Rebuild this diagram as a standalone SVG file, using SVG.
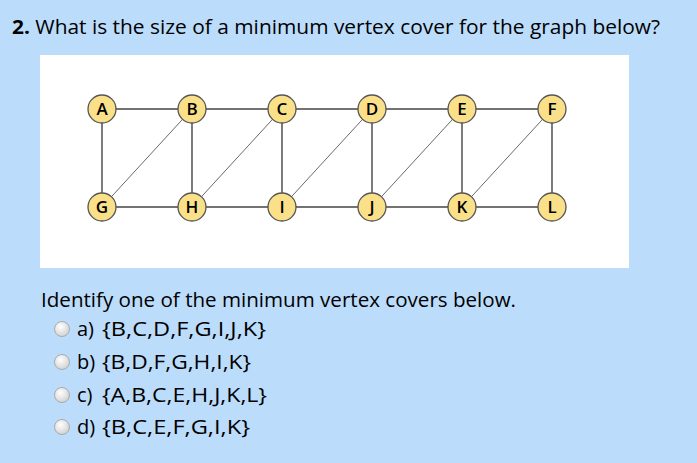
<svg xmlns="http://www.w3.org/2000/svg" width="697" height="463" viewBox="0 0 697 463">
<style>
text{font-family:"Open Sans","Liberation Sans",sans-serif;fill:#000}
.q{font-size:20px}
.n circle{fill:#fbe08a;stroke:#555;stroke-width:1.3}
.e line{stroke:#444;stroke-width:1.4}
.e .d{stroke-width:0.8}
.r{fill:url(#rg);stroke:#aaa;stroke-width:1}
</style>
<defs><radialGradient id="rg" cx="0.4" cy="0.35" r="0.7"><stop offset="0" stop-color="#fff"/><stop offset="1" stop-color="#cfcfcf"/></radialGradient></defs>
<rect width="697" height="463" fill="#bcdcfb"/>
<text x="12" y="34" class="q" textLength="648" lengthAdjust="spacingAndGlyphs"><tspan font-weight="bold">2.</tspan> What is the size of a minimum vertex cover for the graph below?</text>
<rect x="40" y="55" width="589" height="213" fill="#fff"/>
<g class="e">
<line x1="102" y1="109" x2="552" y2="109"/><line x1="102" y1="207" x2="552" y2="207"/>
<line x1="102" y1="109" x2="102" y2="207"/><line x1="192" y1="109" x2="192" y2="207"/><line x1="282" y1="109" x2="282" y2="207"/><line x1="372" y1="109" x2="372" y2="207"/><line x1="462" y1="109" x2="462" y2="207"/><line x1="552" y1="109" x2="552" y2="207"/>
<line class="d" x1="102" y1="207" x2="192" y2="109"/><line class="d" x1="192" y1="207" x2="282" y2="109"/><line class="d" x1="282" y1="207" x2="372" y2="109"/><line class="d" x1="372" y1="207" x2="462" y2="109"/><line class="d" x1="462" y1="207" x2="552" y2="109"/>
</g>
<g font-size="17" text-anchor="middle" font-weight="600">
<g id="A" class="n"><circle cx="102" cy="109" r="14"/><text x="102" y="115">A</text></g>
<g id="B" class="n"><circle cx="192" cy="109" r="14"/><text x="192" y="115">B</text></g>
<g id="C" class="n"><circle cx="282" cy="109" r="14"/><text x="282" y="115">C</text></g>
<g id="D" class="n"><circle cx="372" cy="109" r="14"/><text x="372" y="115">D</text></g>
<g id="E" class="n"><circle cx="462" cy="109" r="14"/><text x="462" y="115">E</text></g>
<g id="F" class="n"><circle cx="552" cy="109" r="14"/><text x="552" y="115">F</text></g>
<g id="G" class="n"><circle cx="102" cy="207" r="14"/><text x="102" y="213">G</text></g>
<g id="H" class="n"><circle cx="192" cy="207" r="14"/><text x="192" y="213">H</text></g>
<g id="I" class="n"><circle cx="282" cy="207" r="14"/><text x="282" y="213">I</text></g>
<g id="J" class="n"><circle cx="372" cy="207" r="14"/><text x="372" y="213">J</text></g>
<g id="K" class="n"><circle cx="462" cy="207" r="14"/><text x="462" y="213">K</text></g>
<g id="L" class="n"><circle cx="552" cy="207" r="14"/><text x="552" y="213">L</text></g>
</g>
<text x="41" y="307" class="q" textLength="475" lengthAdjust="spacingAndGlyphs">Identify one of the minimum vertex covers below.</text>
<circle class="r" cx="62" cy="329" r="7.5"/><text x="77" y="336" class="q">a)</text><text x="102" y="336" class="q" textLength="164" lengthAdjust="spacingAndGlyphs">{B,C,D,F,G,I,J,K}</text>
<circle class="r" cx="62" cy="362" r="7.5"/><text x="77" y="369" class="q">b)</text><text x="102" y="369" class="q" textLength="149" lengthAdjust="spacingAndGlyphs">{B,D,F,G,H,I,K}</text>
<circle class="r" cx="62" cy="395" r="7.5"/><text x="77" y="402" class="q">c)</text><text x="102" y="402" class="q" textLength="165" lengthAdjust="spacingAndGlyphs">{A,B,C,E,H,J,K,L}</text>
<circle class="r" cx="62" cy="427" r="7.5"/><text x="77" y="434" class="q">d)</text><text x="102" y="434" class="q" textLength="148" lengthAdjust="spacingAndGlyphs">{B,C,E,F,G,I,K}</text>
</svg>
